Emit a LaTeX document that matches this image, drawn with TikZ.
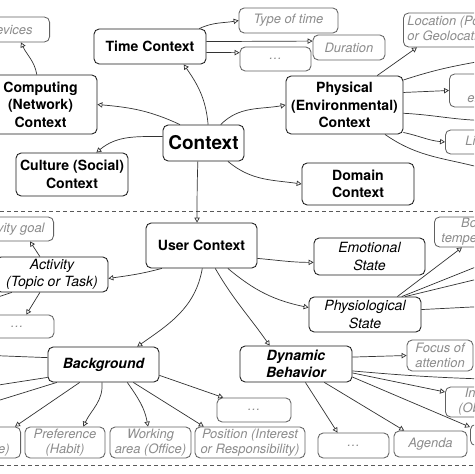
\documentclass[tikz,border=0pt]{standalone}
\usepackage{fontspec}
\setmainfont{TeX Gyre Heros}
\usepackage{tikz}
\usetikzlibrary{calc}
\usetikzlibrary{arrows.meta}

\tikzset{
  mainbox/.style={draw=black!90, line width=0.6pt, rounded corners=1.3mm, align=center, inner sep=0pt,
    font=\fontsize{10}{12.4}\selectfont\bfseries},
  userbox/.style={mainbox, font=\fontsize{10}{12.4}\selectfont\itshape},
  userboldbox/.style={mainbox, font=\fontsize{10}{12.4}\selectfont\bfseries\itshape},
  leafbox/.style={draw=black!62, line width=0.6pt, rounded corners=1.3mm, align=center, inner sep=0pt,
    text=black!45, font=\fontsize{9.2}{10.5}\selectfont\itshape},
  arr/.style={draw=black!80, line width=0.5pt, -{Triangle[open,length=3.5pt,width=3.8pt]}},
  stub/.style={draw=black!80, line width=0.5pt},
  divider/.style={draw=black!65, line width=0.6pt, dash pattern=on 1mm off 0.75mm}
}

\begin{document}
\begin{tikzpicture}[x=0.25mm, y=0.25mm]
                \useasboundingbox (0,0) rectangle (474,474);
                \clip (0,0) rectangle (474,474);
                \fill [white] (0,0) rectangle (474,474);%

                % Marking main contexts
                \node [mainbox, minimum width=20.25mm, minimum height=9mm, font=\fontsize{13.5}{15}\selectfont\bfseries] (ctx) at (203.5,331) {Context};%
                \node [mainbox, minimum width=28mm, minimum height=8.75mm] (time) at (150,427.5) {Time Context};%
                \node [mainbox, minimum width=28.25mm, minimum height=14.75mm] (comp) at (40.5,369.5) {Computing\\(Network)\\Context};%
                \node [mainbox, minimum width=28mm, minimum height=10.75mm] (culture) at (72,299.5) {Culture (Social)\\Context};%
                \node [mainbox, minimum width=29.25mm, minimum height=14.5mm] (phys) at (344.5,369) {Physical\\(Environmental)\\Context};%
                \node [mainbox, minimum width=28mm, minimum height=10.5mm] (domain) at (358,290) {Domain\\Context};%
                \node [mainbox, minimum width=27.75mm, minimum height=11.25mm] (user) at (201.5,228.5) {User Context};%

                % Marking user context parts
                \node [userbox, minimum width=28mm, minimum height=8.75mm] (activity) at (52,199.5) {Activity\\(Topic or Task)};%
                \node [userbox, minimum width=27.75mm, minimum height=9.25mm] (emotional) at (369.5,217.5) {Emotional\\State};%
                \node [userbox, minimum width=28mm, minimum height=8.75mm] (physio) at (365,159.5) {Physiological\\State};%
                \node [userboldbox, minimum width=27.75mm, minimum height=8.75mm] (backg) at (103.5,109.5) {Background};%
                \node [userboldbox, minimum width=28mm, minimum height=9mm] (dynamic) at (296,110) {Dynamic\\Behavior};%

                % Marking leaves of the top part
                \node [leafbox, anchor=east, inner xsep=4.25mm, minimum height=6.25mm] (devices) at (50,444.5) {Devices};%
                \node [leafbox, minimum width=24.75mm, minimum height=6.25mm] (typetime) at (288.5,453.5) {Type of time};%
                \node [leafbox, minimum width=18mm, minimum height=6.25mm] (duration) at (349,426.5) {Duration};%
                \node [leafbox, minimum width=17.75mm, minimum height=6mm] (tdots) at (275.5,415) {\dots};%
                \node [leafbox, anchor=west, align=left, inner xsep=1mm, minimum height=8.5mm] (location) at (403,444) {Location (Position\\or Geolocation)};%
                \node [leafbox, anchor=west, inner xsep=4.5mm, minimum height=8.25mm] (envbox) at (449,383.5) {Weather\\environment};%
                \node [leafbox, anchor=west, inner xsep=5mm, minimum height=6mm] (lightbox) at (445,332) {Lighting};%

                % Marking leaves of the user part
                \node [leafbox, anchor=east, inner xsep=2.25mm, minimum height=6mm] (actgoal) at (54,245) {Activity goal};%
                \node [leafbox, minimum width=18.5mm, minimum height=5.75mm] (actdots) at (17,147.5) {\dots};%
                \node [leafbox, anchor=west, inner xsep=1.75mm, minimum height=7.5mm] (bodytemp) at (434,242) {Body\\temperature};%
                \node [leafbox, anchor=east, inner xsep=2.75mm, minimum height=7.75mm] (b1) at (21,31.5) {Skill\\(Knowledge)};%
                \node [leafbox, minimum width=20mm, minimum height=7.75mm] (pref) at (65,31.5) {Preference\\(Habit)};%
                \node [leafbox, minimum width=20.25mm, minimum height=7.75mm] (workarea) at (150.5,31.5) {Working\\area (Office)};%
                \node [leafbox, minimum width=27.5mm, minimum height=7.75mm] (position) at (250,31.5) {Position (Interest\\or Responsibility)};%
                \node [leafbox, minimum width=18.5mm, minimum height=6mm] (bgdots) at (254,64) {\dots};%
                \node [leafbox, minimum width=17.75mm, minimum height=6.25mm] (bhdots) at (353.5,28.5) {\dots};%
                \node [leafbox, minimum width=18.25mm, minimum height=6.5mm] (agenda) at (430.5,30) {Agenda};%
                \node [leafbox, minimum width=16.5mm, minimum height=7.75mm] (focus) at (440,118.5) {Focus of\\attention};%
                \node [leafbox, anchor=west, inner xsep=3.25mm, minimum height=7.5mm] (intent) at (445,72) {Intention\\(Objective)};%
                \node [leafbox, anchor=west, minimum width=15mm, minimum height=5.25mm] (rbox) at (470,39) {};%

                % Free ends leaving the picture
                \coordinate (offA) at (482,413);%
                \coordinate (offB) at (482,353.5);%
                \coordinate (offC) at (482,306);%
                \coordinate (offD) at (-8,175);%
                \coordinate (offE) at (-8,118.5);%
                \coordinate (offF) at (-8,88);%
                \coordinate (offG) at (-8,71.5);%
                \coordinate (offH) at (482,95);%
                \coordinate (offI) at (482,209.5);%
                \coordinate (offJ) at (482,196);%
                \coordinate (offK) at (482,167.5);%

                % Drawing dashed dividers
                \draw [divider] (0,263) -- (474,263);%
                \draw [divider] (0,9) -- (474,9);%

                % Drawing edges of Context
                \draw [arr] (ctx.76) to[out=95,in=-55] (time.-28);%
                \draw [arr] (ctx.142) to[out=155,in=-5] (comp.east);%
                \draw [arr] (ctx.171) to[out=180,in=40] (culture.42);%
                \draw [arr] (ctx.47) to[out=45,in=-170] (phys.west);%
                \draw [arr] (ctx.-37) to[out=-40,in=172] (domain.west);%
                \draw [arr] (ctx.-107) to[out=-92,in=90] (user.101);%

                % Drawing edges of Time Context
                \draw [arr] (time.20) to[out=25,in=190] (typetime.west);%
                \draw [arr] (time.5) -- (duration.170);%
                \draw [arr] (time.-6) -- (tdots.170);%

                % Drawing edges of Computing Context
                \draw [arr] (comp.97) to[out=100,in=-65] (devices.-49);%

                % Drawing edges of Physical Context
                \draw [arr] (phys.42) -- ($(location.south west)+(14,0)$);%
                \draw [arr] (phys.12) -- (envbox.west);%
                \draw [arr] (phys.-25) to[out=-12,in=175] (lightbox.west);%
                \draw [stub] (phys.23) to[out=18,in=190] (offA);%
                \draw [stub] (phys.-8) to[out=-3,in=178] (offB);%
                \draw [stub] (phys.-36) to[out=-35,in=165] (offC);%

                % Drawing edges of User Context
                \draw [arr] (user.210) to[out=195,in=8] (activity.-4);%
                \draw [arr] (user.-88) to[out=-100,in=35] (backg.28);%
                \draw [arr] (user.-59) to[out=-60,in=125] (dynamic.145);%
                \draw [arr] (user.-13) to[out=-5,in=180] (emotional.186);%
                \draw [arr] (user.-41) to[out=-40,in=168] (physio.173);%

                % Drawing edges of Activity
                \draw [arr] (activity.124) -- ($(actgoal.south east)+(-24,0)$);%
                \draw [arr] (activity.-124) -- (actdots.52);%
                \draw [stub] (activity.-156) -- (offD);%

                % Drawing edges of Physiological State
                \draw [arr] (physio.29) -- ($(bodytemp.south west)+(28,0)$);%
                \draw [stub] (physio.26) -- (offI);%
                \draw [stub] (physio.24) -- (offJ);%
                \draw [stub] (physio.5) -- (offK);%

                % Drawing edges of Background
                \draw [arr] (backg.217) -- ($(b1.north east)+(-6,0)$);%
                \draw [arr] (backg.-95) to[out=-85,in=65] (pref.41);%
                \draw [arr] (backg.-37) to[out=-55,in=100] (workarea.99);%
                \draw [arr] (backg.-31) -- (position.161);%
                \draw [arr] (backg.-11) -- (bgdots.158);%
                \draw [stub] (backg.173) -- (offE);%
                \draw [stub] (backg.193) -- (offF);%
                \draw [stub] (backg.201) -- (offG);%

                % Drawing edges of Dynamic Behavior
                \draw [arr] (dynamic.7) -- (focus.west);%
                \draw [arr] (dynamic.-9) -- ($(intent.west)+(0,10)$);%
                \draw [arr] (dynamic.-13) -- ($(rbox.north west)+(0,-3)$);%
                \draw [stub] (dynamic.-7) to[out=-5,in=178] (offH);%
                \draw [arr] (dynamic.-33) -- (agenda.153);%
                \draw [arr] (dynamic.-63) -- (bhdots.141);%
\end{tikzpicture}
\end{document}
